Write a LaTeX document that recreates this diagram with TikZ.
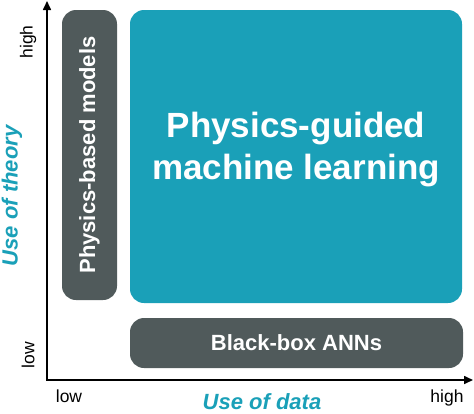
\documentclass[tikz,border=0pt]{standalone}
\usepackage{fontspec}
\setmainfont{Liberation Sans}
\usepackage{xcolor}
\usepackage{tikz}
\usetikzlibrary{arrows.meta}

\definecolor{pgmlteal}{HTML}{1AA0B8}
\definecolor{boxgray}{HTML}{505A5B}

\tikzset{
  region/.style={rounded corners=14pt, inner sep=0pt},
  boxtext/.style={text=white, font=\bfseries\fontsize{22}{26}\selectfont},
  axislabel/.style={text=pgmlteal, font=\bfseries\itshape\fontsize{22}{26}\selectfont},
  ticklabel/.style={font=\fontsize{17.5}{20}\selectfont}
}

\begin{document}
\begin{tikzpicture}[x=1pt, y=-1pt]
    \useasboundingbox (0,0) rectangle (474,413);

    % Boxes
    \fill[pgmlteal, region] (130,10) rectangle (462,303);
    \fill[boxgray, region] (62,10) rectangle (117,300);
    \fill[boxgray, region] (130,318) rectangle (463,368);

    % Box texts
    \node[boxtext, font=\bfseries\fontsize{35}{42}\selectfont, align=center] (pgml) at (296,150)
        {Physics-guided\\machine learning};
    \node[boxtext, rotate=90] (pbm) at (89.5,155) {Physics-based models};
    \node[boxtext] (bbox) at (296.5,343) {Black-box ANNs};

    % Axes
    \coordinate (origin) at (47,380);
    \coordinate (ytip) at (47,1);
    \coordinate (xtip) at (473,380);
    \draw[line width=1.6pt, -{Triangle[length=9pt, width=8pt]}] ([yshift=-0.8pt]origin) -- (ytip);
    \draw[line width=1.6pt, -{Triangle[length=9pt, width=8pt]}] ([xshift=-0.8pt]origin) -- (xtip);

    % Axis labels
    \node[ticklabel, rotate=90] (yhigh) at (28,42) {high};
    \node[ticklabel, rotate=90] (ylow) at (28,355) {low};
    \node[ticklabel] (xlow) at (69,396) {low};
    \node[ticklabel] (xhigh) at (447,398) {high};
    \node[axislabel, rotate=90] (ytitle) at (12,196) {Use of theory};
    \node[axislabel] (xtitle) at (262,402) {Use of data};
\end{tikzpicture}
\end{document}
